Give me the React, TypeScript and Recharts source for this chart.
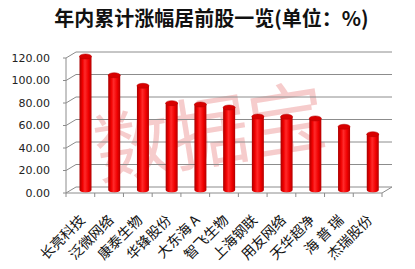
import React from 'react';
import { BarChart, Bar, XAxis, YAxis, CartesianGrid } from 'recharts';

const categories = ['长亮科技', '泛微网络', '康泰生物', '华锋股份', '大东海 A', '智飞生物', '上海钢联', '用友网络', '天华超净', '海 普 瑞', '杰瑞股份'];
const gains = [118.7, 102.0, 92.6, 77.2, 76.0, 73.3, 65.3, 65.1, 63.6, 56.2, 49.6];
const yTicks = [0, 20, 40, 60, 80, 100, 120];

const data = categories.map((name, i) => ({ name, value: gains[i] }));

const W = 415;
const H = 269;
const PLOT_LEFT = 66;
const PLOT_RIGHT = 382;
const PLOT_TOP = 58;
const PLOT_BOTTOM = 193;
const BAND = (PLOT_RIGHT - PLOT_LEFT) / categories.length;

// 3D depth: back wall offset, bars sit half way
const DEPTH_X = 10;
const DEPTH_Y = -6;
const BAR_DX = 5.5;
const BAR_DY = -3;

const GRID = '#8c8c8c';

const CylinderBar = (props: any) => {
  const { x, y, width, height, index } = props;
  const left = x + BAR_DX;
  const right = left + width;
  const top = y + BAR_DY;
  const bottom = y + height + BAR_DY;
  const rx = width / 2;
  const ry = 2.5;
  const id = `cyl${index}`;
  return (
    <g>
      <defs>
        <linearGradient id={id} x1="0" y1="0" x2="1" y2="0">
          <stop offset="0%" stopColor="#a80000" />
          <stop offset="25%" stopColor="#f00000" />
          <stop offset="45%" stopColor="#ff2a2a" />
          <stop offset="75%" stopColor="#f00000" />
          <stop offset="100%" stopColor="#b40000" />
        </linearGradient>
      </defs>
      <path
        d={`M${left},${top} L${left},${bottom} A${rx},${ry} 0 0 0 ${right},${bottom} L${right},${top} Z`}
        fill={`url(#${id})`}
      />
      <ellipse cx={left + rx} cy={top} rx={rx} ry={ry} fill="#d80000" stroke="#b00000" strokeWidth={0.5} />
    </g>
  );
};

const GridLine = (props: any) => {
  const { x1, x2, y1 } = props;
  const isFloor = Math.abs(y1 - PLOT_BOTTOM) < 1;
  let d = `M${x1},${y1} L${x1 + DEPTH_X},${y1 + DEPTH_Y} L${x2 + DEPTH_X},${y1 + DEPTH_Y}`;
  if (isFloor) d += ` L${x2},${y1}`;
  return <path key={props.key} d={d} fill="none" stroke={GRID} strokeWidth={1} />;
};

const CategoryTick = (props: any) => {
  const { x, payload, index } = props;
  const ax = x + 5.5;
  const ay = PLOT_BOTTOM + 28;
  const edge = x - BAND / 2;
  return (
    <g>
      <line x1={edge} y1={PLOT_BOTTOM} x2={edge} y2={PLOT_BOTTOM + 4} stroke={GRID} />
      {index === categories.length - 1 && (
        <line x1={x + BAND / 2} y1={PLOT_BOTTOM} x2={x + BAND / 2} y2={PLOT_BOTTOM + 4} stroke={GRID} />
      )}
      <text
        x={ax}
        y={ay}
        textAnchor="end"
        transform={`rotate(-45, ${ax}, ${ay})`}
        fontSize={14}
        fontFamily="'Noto Sans CJK SC', sans-serif"
        fill="#111"
      >
        {payload.value}
      </text>
    </g>
  );
};

export default function App() {
  return (
    <div style={{ position: 'absolute', left: 0, top: 0, width: W, height: H, background: '#fff', overflow: 'hidden' }}>
      <div
        style={{
          position: 'absolute',
          left: 0,
          width: W,
          top: 4,
          textAlign: 'center',
          fontFamily: "'Noto Sans CJK SC', sans-serif",
          fontWeight: 'bold',
          fontSize: 20,
          lineHeight: '28px',
          color: '#111',
          paddingLeft: 4,
        }}
      >
        年内累计涨幅居前股一览(单位：%)
      </div>
      <div
        style={{
          position: 'absolute',
          left: 92,
          top: 84,
          fontFamily: "'Noto Sans CJK SC', sans-serif",
          fontSize: 78,
          lineHeight: '86px',
          color: 'rgba(232, 120, 120, 0.38)',
          transform: 'rotate(-9deg)',
          transformOrigin: 'center',
          whiteSpace: 'nowrap',
        }}
      >
        数据宝
      </div>
      <div style={{ position: 'absolute', left: 0, top: 0 }}>
        <BarChart
          width={W}
          height={H}
          data={data}
          margin={{ top: PLOT_TOP, right: W - PLOT_RIGHT, left: 0, bottom: 0 }}
          barSize={12}
        >
          <CartesianGrid vertical={false} horizontal={GridLine} />
          <YAxis
            width={PLOT_LEFT}
            domain={[0, 120]}
            ticks={yTicks}
            interval={0}
            tickFormatter={(v: number) => v.toFixed(2)}
            tick={{ fontSize: 11, fill: '#222', fontFamily: "'DejaVu Sans', sans-serif" }}
            tickSize={3}
            tickMargin={13}
            axisLine={{ stroke: GRID }}
            tickLine={{ stroke: GRID }}
          />
          <XAxis
            dataKey="name"
            height={H - PLOT_BOTTOM}
            interval={0}
            tickLine={false}
            axisLine={{ stroke: GRID }}
            tick={<CategoryTick />}
          />
          <Bar dataKey="value" shape={<CylinderBar />} isAnimationActive={false} />
        </BarChart>
      </div>
    </div>
  );
}
